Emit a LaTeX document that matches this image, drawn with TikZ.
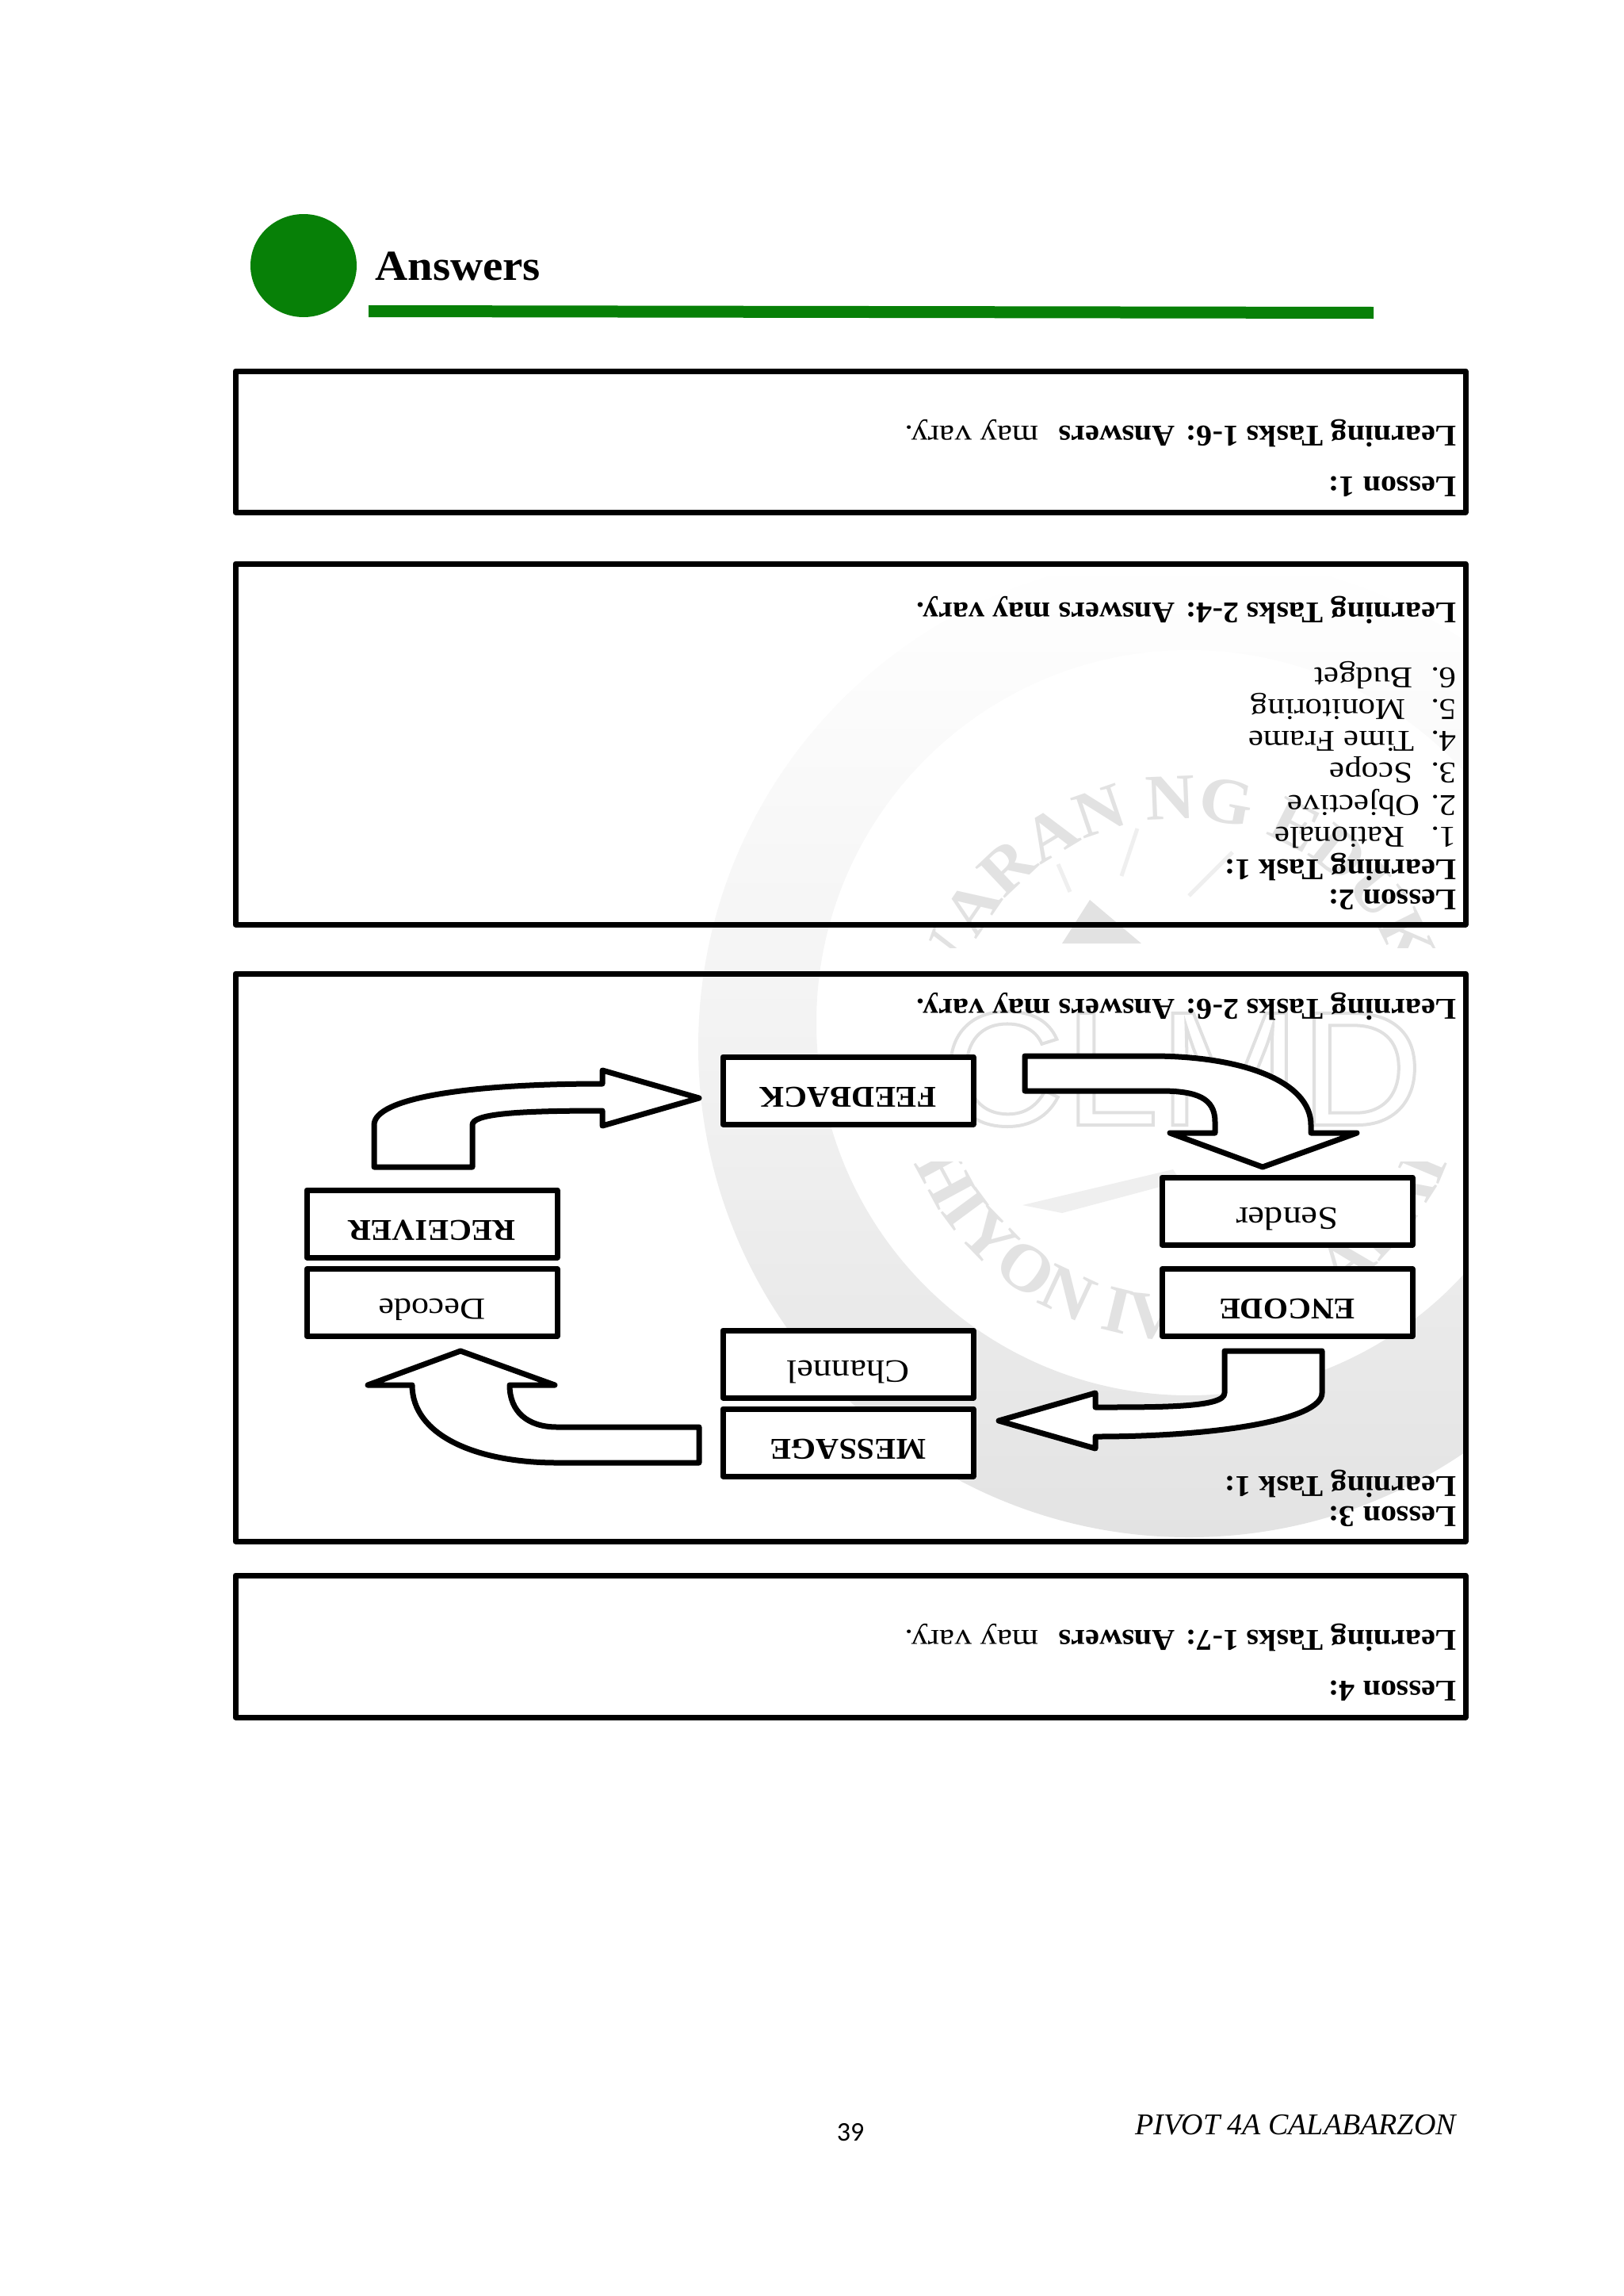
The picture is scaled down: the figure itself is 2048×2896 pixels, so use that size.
\documentclass[tikz,border=0pt]{standalone}
\usepackage{fontspec}
\usetikzlibrary{decorations.text}
\setmainfont{Liberation Serif}
\newfontfamily\rgf[FakeStretch=1.13]{Liberation Serif}
\newfontfamily\bdf[FakeStretch=1.055]{Liberation Serif Bold}
\newfontfamily\sansf[FakeStretch=1.045]{Liberation Sans}
\newfontfamily\pagef{Carlito}
\definecolor{leafgreen}{HTML}{078007}
\definecolor{wmgray}{HTML}{E2E2E2}
\definecolor{wmlight}{HTML}{EFEFEF}
\newcommand{\wmfontA}{\fontsize{82}{84}\bdf\selectfont\color{wmgray}}
\newcommand{\wmfontB}{\fontsize{84}{86}\bdf\selectfont\color{wmgray}}
\tikzset{
  panel/.style={draw=black,line width=7pt,line join=round},
  boldline/.style={rotate=180,anchor=base west,inner sep=0pt,font=\fontsize{38}{40}\bdf\selectfont},
  plainline/.style={rotate=180,anchor=base west,inner sep=0pt,font=\fontsize{38}{40}\rgf\selectfont},
  stagebox/.style={draw=black,fill=white,line width=7pt,line join=round,rotate=180,inner sep=0pt,
     minimum width=316pt,text height=47pt,text depth=38pt,align=center},
  strongbox/.style={stagebox,font=\fontsize{38}{40}\bdf\selectfont},
  lightbox/.style={stagebox,font=\fontsize{41}{42}\rgf\selectfont},
  flowarrow/.style={draw=black,fill=white,line width=7pt,line join=round},
  wmline/.style={draw=wmlight,line width=5pt}
}
\begin{document}
\begin{tikzpicture}[x=1pt,y=-1pt]
\useasboundingbox (0,0) rectangle (2048,2896);
% watermark
\begin{scope}
  \clip (800,640) rectangle (1849,1960);
  \shade[top color=white,bottom color=black!11,middle color=black!5,even odd rule]
    (1500,1320) circle [radius=619pt] (1500,1290) circle [radius=470pt];
\end{scope}
\node[inner sep=0pt,anchor=base west] (wmclmd) at (1188,1419)
  {\fontsize{205}{210}\sansf\selectfont\special{pdf:code 1 Tr 4 w 0.88 G}CLMD\special{pdf:code 0 Tr 1 w 0 G}};
\begin{scope}
  \clip (1100,900) rectangle (1849,1195);
  \path[decorate,decoration={text along path,text align=center,text={|\wmfontA|KAGAWARAN NG EDUKASYON}}]
    (1490,1325) ++(260:292pt) arc[start angle=260,end angle=-80,radius=292pt];
\end{scope}
\begin{scope}
  \clip (1100,1465) rectangle (1849,1700);
  \path[decorate,decoration={text along path,text align=center,text={|\wmfontB|REHIYON IV-CALABARZON}}]
    (1490,1325) ++(178:365pt) arc[start angle=178,end angle=378,radius=365pt];
\end{scope}
\draw[wmline] (1435,1045) -- (1415,1105);
\draw[wmline] (1335,1090) -- (1350,1125);
\draw[wmline] (1555,1075) -- (1500,1130);
\fill[wmgray] (1340,1190) -- (1375,1135) -- (1440,1190) -- cycle;
\fill[wmlight] (1290,1520) -- (1480,1475) -- (1490,1490) -- (1340,1530) -- cycle;

% title
\fill[leafgreen] (383,335) ellipse [x radius=67pt,y radius=65pt];
\fill[leafgreen] (465,385) -- (1733,387) -- (1733,402) -- (465,400) -- cycle;
\node[inner sep=0pt,anchor=base west,font=\fontsize{54}{56}\bdf\selectfont] (answers) at (473,353) {Answers};

% panels
\draw[panel] (297,468) rectangle (1849,646);
\draw[panel] (297,711) rectangle (1849,1166);
\draw[panel] (297,1228) rectangle (1849,1944);
\draw[panel] (297,1987) rectangle (1849,2166);

% lesson 1
\node[boldline] (l1) at (1838,601) {Lesson 1:};
\node[boldline] (l1a) at (1838,537) {Learning Tasks 1-6: Answers};
\node[plainline] (l1b) at (1311,537) {may vary.};

% lesson 2
\node[boldline] (l2) at (1838,1122) {Lesson 2:};
\node[boldline] (l2t) at (1838,1084) {Learning Task 1:};
\node[plainline] (i1) at (1838,1043) {\makebox[65pt][l]{1.}Rationale};
\node[plainline] (i2) at (1838,1003) {\makebox[46pt][l]{2.}Objective};
\node[plainline] (i3) at (1838,962) {\makebox[55pt][l]{3.}Scope};
\node[plainline] (i4) at (1838,922) {\makebox[53pt][l]{4.}Time Frame};
\node[plainline] (i5) at (1838,882) {\makebox[64pt][l]{5.}Monitoring};
\node[plainline] (i6) at (1838,842) {\makebox[55pt][l]{6.}Budget};
\node[boldline] (l2b) at (1838,760) {Learning Tasks 2-4: Answers may vary.};

% lesson 3
\node[boldline] (l3) at (1838,1900) {Lesson 3:};
\node[boldline] (l3t) at (1838,1862) {Learning Task 1:};
\node[boldline] (l3b) at (1838,1260) {Learning Tasks 2-6: Answers may vary.};

% lesson 4
\node[boldline] (l4) at (1838,2120) {Lesson 4:};
\node[boldline] (l4a) at (1838,2056) {Learning Tasks 1-7: Answers};
\node[plainline] (l4b) at (1311,2056) {may vary.};

% arrows
\draw[flowarrow] (472,1472) -- (472,1419) .. controls (472,1385) and (590,1367) .. (760,1367)
  -- (760,1350) -- (882,1385) -- (760,1420) -- (760,1401) .. controls (650,1401) and (596,1405) .. (596,1419)
  -- (596,1472) -- cycle;
\draw[flowarrow] (1293,1332) -- (1453,1332) .. controls (1570,1332) and (1654,1365) .. (1654,1419)
  -- (1654,1429) -- (1712,1429) -- (1593,1472) -- (1476,1429) -- (1533,1429) -- (1533,1415)
  .. controls (1533,1385) and (1510,1376) .. (1464,1376) -- (1293,1376) -- cycle;
\draw[flowarrow] (1668,1704) -- (1668,1757) .. controls (1668,1790) and (1540,1812) .. (1382,1812)
  -- (1382,1827) -- (1260,1792) -- (1382,1757) -- (1382,1775) .. controls (1470,1775) and (1545,1775) .. (1545,1757)
  -- (1545,1704) -- cycle;
\draw[flowarrow] (882,1845) -- (703,1845) .. controls (600,1845) and (520,1810) .. (520,1747)
  -- (464,1747) -- (581,1704) -- (700,1747) -- (643,1747) .. controls (643,1780) and (665,1800) .. (703,1800)
  -- (882,1800) -- cycle;

% stage boxes
\node[strongbox] (feedback) at (1070,1375.5) {FEEDBACK};
\node[lightbox] (sender) at (1624,1527.5) {Sender};
\node[strongbox] (encode) at (1624,1643) {ENCODE};
\node[strongbox] (receiver) at (545,1543.5) {RECEIVER};
\node[lightbox,font=\fontsize{39}{40}\rgf\selectfont] (decode) at (545,1643) {Decode};
\node[lightbox] (channel) at (1070,1720.5) {Channel};
\node[strongbox] (message) at (1070,1819.5) {MESSAGE};

% footer
\node[inner sep=0pt,font=\fontsize{34}{36}\pagef\selectfont] (pageno) at (1073,2690) {39};
\node[inner sep=0pt,anchor=base east,font=\fontsize{38}{40}\selectfont\itshape] (pivot) at (1837,2692) {PIVOT 4A CALABARZON};
\end{tikzpicture}
\end{document}
